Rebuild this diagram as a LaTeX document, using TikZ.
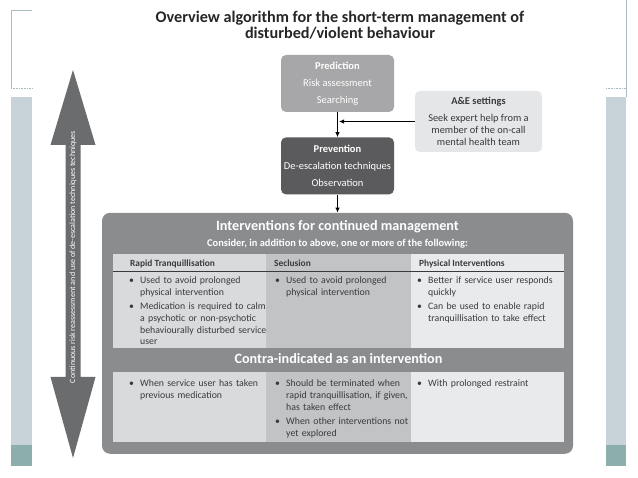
\documentclass[tikz,border=0pt]{standalone}
\usepackage{fontspec}
\setmainfont{Carlito}
\usepackage{tikz}
\usetikzlibrary{arrows.meta,positioning,calc}
\definecolor{slidebar}{RGB}{199,211,217}
\definecolor{slideteal}{RGB}{141,175,172}
\definecolor{slideline}{RGB}{170,188,194}
\definecolor{predgray}{RGB}{167,167,169}
\definecolor{prevgray}{RGB}{91,91,93}
\definecolor{aegray}{RGB}{229,230,231}
\definecolor{framegray}{RGB}{139,140,142}
\definecolor{colone}{RGB}{217,218,220}
\definecolor{coltwo}{RGB}{194,195,197}
\definecolor{colthree}{RGB}{233,234,236}
\definecolor{arrowgray}{RGB}{107,108,110}
\definecolor{textdark}{RGB}{58,58,60}

\newcommand{\bitem}[1]{\par\hyphenpenalty=10000\hangindent=11pt\hangafter=1\noindent\makebox[11pt][l]{\textbullet}#1\par\vspace{2pt}}

\begin{document}
\begin{tikzpicture}[x=1pt, y=-1pt,
    box/.style={rectangle, rounded corners=5pt, minimum width=113pt, minimum height=57pt,
        align=center, font=\fontsize{10.5}{17}\selectfont, text=white, inner sep=0pt},
    aebox/.style={rectangle, rounded corners=5pt, fill=aegray, minimum width=127pt, minimum height=61pt,
        align=center, font=\fontsize{10.4}{11.8}\selectfont, text=textdark, inner sep=0pt},
    frame/.style={rectangle, rounded corners=8pt, fill=framegray, minimum width=471pt,
        minimum height=241pt, inner sep=0pt},
    cell/.style={rectangle, inner sep=0pt, outer sep=0pt, minimum height=94pt},
    headcell/.style={inner sep=0pt, font=\fontsize{9.4}{10}\selectfont\bfseries, text=textdark},
    celltext/.style={anchor=north west, inner sep=0pt, text width=#1, align=left,
        font=\fontsize{9.8}{11.8}\selectfont, text=textdark},
    bigtext/.style={inner sep=0pt, text=white, font=\fontsize{14.2}{15}\selectfont\bfseries},
    arr/.style={-{Latex[length=5pt,width=4.5pt]}, line width=1.3pt, draw=black},
    node distance=25pt
]
\useasboundingbox (0,0) rectangle (638,478);
\fill[white] (0,0) rectangle (638,478);

% slide decoration
\draw[slideline, line width=0.6pt] (32,10) -- (11,10) -- (11,88);
\draw[slideline, line width=0.6pt, densely dotted] (11,88) -- (32,88);
\fill[slidebar] (11,97) rectangle (32,445);
\fill[slideteal] (11,445) rectangle (32,466);
\draw[slideline, line width=0.6pt] (626,0) -- (626,97);
\draw[slideline, line width=0.6pt, densely dotted] (606,88) -- (626,88);
\fill[slidebar] (606,97) rectangle (626,445);
\fill[slideteal] (606,445) rectangle (626,466);

\node[align=center, font=\fontsize{16.2}{16}\selectfont\bfseries, text=black!85] (title) at (340,25)
    {Overview algorithm for the short-term management of\\disturbed/violent behaviour};

\node[box, fill=predgray] (pred) at (337.5,83.5) {\textbf{Prediction}\\Risk assessment\\Searching};
\node[box, fill=prevgray, below=of pred] (prev) {\textbf{Prevention}\\De-escalation techniques\\Observation};
\draw[arr] (pred) -- (prev);

\node[aebox] (ae) at (478.5,121.5) {\textbf{A\&E settings}\\[5pt]Seek expert help from a\\member of the on-call\\mental health team};
\draw[arr, shorten >=1.5pt] (ae.west) -- (ae.west -| pred.south);

\node[frame, below=18pt of prev] (inter) {};
\draw[arr] (prev) -- (inter);

\node[bigtext, below=18pt of inter.north, anchor=base] (intertitle) {Interventions for continued management};
\node[inner sep=0pt, text=white, font=\fontsize{10.4}{10}\selectfont\bfseries, below=16pt of intertitle.base, anchor=base]
    (consider) {Consider, in addition to above, one or more of the following:};

% indications row
\node[cell, fill=colone, minimum width=153pt, anchor=north west] (rtcell) at (113,254) {};
\node[cell, fill=coltwo, minimum width=145pt, right=0pt of rtcell] (seccell) {};
\node[cell, fill=colthree, minimum width=153pt, right=0pt of seccell] (phcell) {};
\draw[textdark, line width=0.8pt] ([yshift=-17.5pt]rtcell.north west) -- ([yshift=-17.5pt]phcell.north east);

\node[headcell, anchor=base west] (rthead) at ([xshift=17pt,yshift=-13pt]rtcell.north west) {Rapid Tranquillisation};
\node[headcell, anchor=base west] (sechead) at ([xshift=8pt,yshift=-13pt]seccell.north west) {Seclusion};
\node[headcell, anchor=base west] (phhead) at ([xshift=8pt,yshift=-13pt]phcell.north west) {Physical Interventions};

\node[celltext=145pt] (rttext) at ([xshift=16pt,yshift=-18pt]rtcell.north west)
    {\bitem{Used to avoid prolonged\newline physical intervention}\bitem{Medication is required to calm\newline a psychotic or non-psychotic\newline behaviourally disturbed service\newline user}};
\node[celltext=140pt] (sectext) at ([xshift=9pt,yshift=-18pt]seccell.north west)
    {\bitem{Used to avoid prolonged\newline physical intervention}};
\node[celltext=150pt] (phtext) at ([xshift=6pt,yshift=-18pt]phcell.north west)
    {\bitem{Better if service user responds\newline quickly}\bitem{Can be used to enable rapid\newline tranquillisation to take effect}};

% contra-indications row
\node[bigtext, anchor=base] (contra) at ($(rtcell.south west)!0.5!(phcell.south east)+(0,16)$)
    {Contra-indicated as an intervention};
\node[cell, fill=colone, minimum width=153pt, minimum height=70pt, below=24pt of rtcell] (rtcontra) {};
\node[cell, fill=coltwo, minimum width=145pt, minimum height=70pt, right=0pt of rtcontra] (seccontra) {};
\node[cell, fill=colthree, minimum width=153pt, minimum height=70pt, right=0pt of seccontra] (phcontra) {};

\node[celltext=145pt] (rtctext) at ([xshift=16pt,yshift=-3pt]rtcontra.north west)
    {\bitem{When service user has taken\newline previous medication}};
\node[celltext=140pt] (secctext) at ([xshift=9pt,yshift=-3pt]seccontra.north west)
    {\bitem{Should be terminated when\newline rapid tranquillisation, if given,\newline has taken effect}\bitem{When other interventions not\newline yet explored}};
\node[celltext=150pt] (phctext) at ([xshift=6pt,yshift=-3pt]phcontra.north west)
    {\bitem{With prolonged restraint}};

% continuous reassessment arrow
\fill[arrowgray] (73,70) -- (95.5,145) -- (80.5,145) -- (80.5,377) -- (95.5,377) -- (73,458)
    -- (50.5,377) -- (65.5,377) -- (65.5,145) -- (50.5,145) -- cycle;
\node[rotate=90, inner sep=0pt, text=white, font=\fontsize{8}{9}\selectfont] (reassess) at (73,257)
    {Continuous risk reassessment and use of de-escalation techniques techniques};
\end{tikzpicture}
\end{document}
